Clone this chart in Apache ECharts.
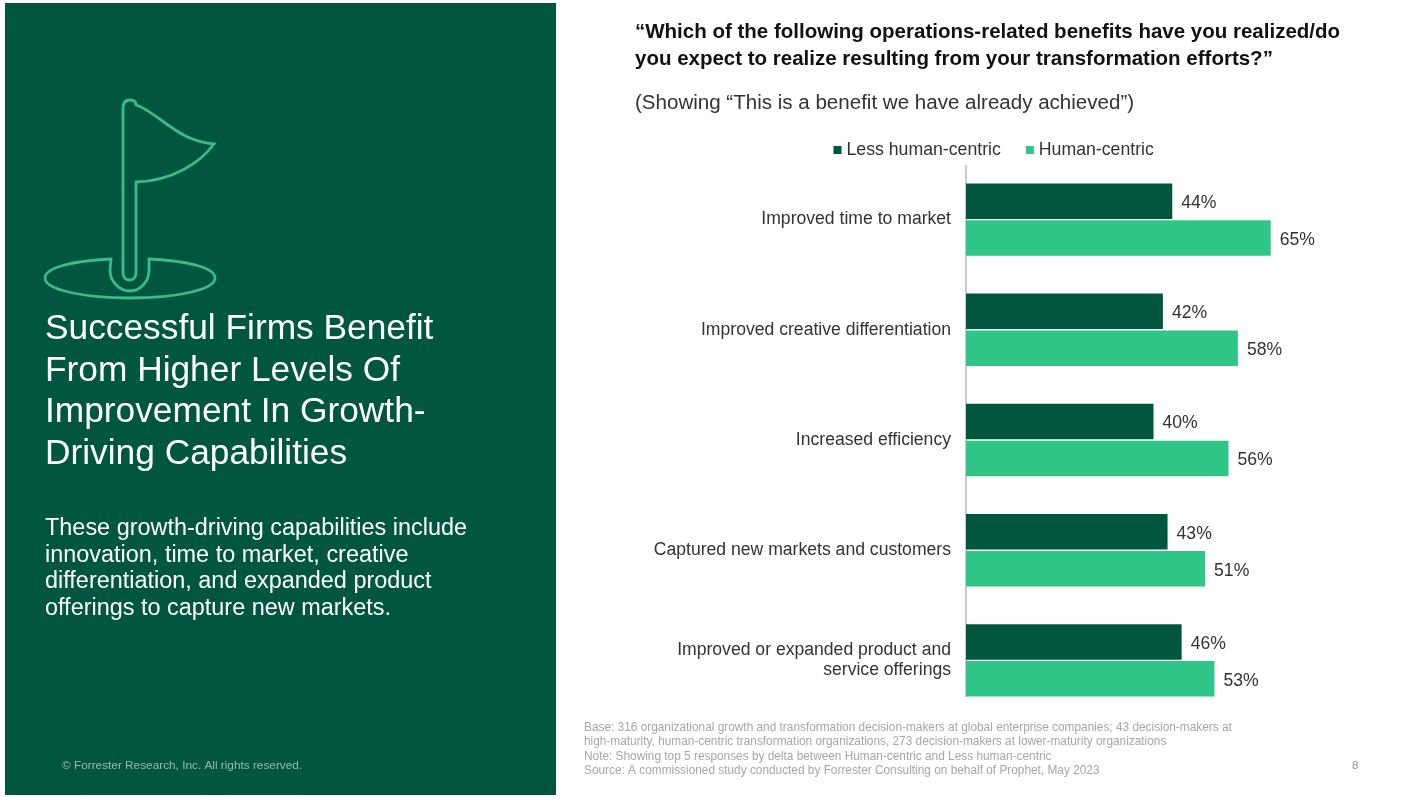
<!DOCTYPE html>
<html lang="en">
<head>
    <meta charset="UTF-8">
    <title>Successful Firms Benefit</title>
    <script src="https://cdn.jsdelivr.net/npm/echarts/dist/echarts.min.js"></script>
    <style>
        html, body { margin: 0; padding: 0; background: #fff; }
        #main { width: 1418px; height: 800px; }
    </style>
</head>
<body>
<div id="main"></div>
<script>
    var categories = [
        'Improved time to market',
        'Improved creative differentiation',
        'Increased efficiency',
        'Captured new markets and customers',
        'Improved or expanded product and\nservice offerings'
    ];
    var lessHumanCentric = [44, 42, 40, 43, 46];
    var humanCentric = [65, 58, 56, 51, 53];

    var fontFamily = '"Liberation Sans", Arial, sans-serif';
    var darkGreen = '#00563f';
    var lightGreen = '#2fc687';
    var iconGreen = '#3dbb87';

    // flag and hole outlines
    var flagPath = 'M123 108 C123 102 126 100 130 100 C134 100 136 102 136 105 C146 108 152 114 168 125 C182 135 194 142 214 144 ' +
        'C200 163 172 181 136 182 L136 272 C136 277 134 280 129.5 280 C125 280 123 277 123 272 Z';
    var holePath = 'M111 259 C70 261 45 268 45 278 C45 290 85 298 130 298 C175 298 215 290 215 278 C215 268 190 261 149 259 ' +
        'L149 270 C149 282 140 291 130 291 C120 291 110 282 110 270 Z';
    echarts.graphic.registerShape('flagOutline', echarts.graphic.extendPath(flagPath));
    echarts.graphic.registerShape('holeOutline', echarts.graphic.extendPath(holePath));

    function text(x, y, str, size, color, lineHeight, weight, align) {
        return {
            type: 'text', x: x, y: y,
            style: {
                text: str, fill: color, font: (weight || 'normal') + ' ' + size + 'px ' + fontFamily,
                lineHeight: lineHeight, textAlign: align || 'left', textVerticalAlign: 'top'
            }
        };
    }

    var valueLabel = { show: true, position: 'right', distance: 9, offset: [0, 2], formatter: '{c}%', fontSize: 17.6, color: '#333' };

    var chart = echarts.init(document.getElementById('main'), null, { renderer: 'canvas' });
    chart.setOption({
        animation: false,
        backgroundColor: '#fff',
        textStyle: { fontFamily: fontFamily },
        legend: {
            left: 828.5,
            top: 136,
            itemWidth: 8,
            itemHeight: 8,
            itemGap: 25,
            icon: 'rect',
            textStyle: { fontSize: 17.7, color: '#333' },
            data: ['Less human-centric', 'Human-centric']
        },
        grid: { left: 966, top: 164.5, width: 375, height: 551 },
        xAxis: { type: 'value', min: 0, max: 80, show: false },
        yAxis: {
            type: 'category',
            inverse: true,
            data: categories,
            axisLine: { show: false },
            axisTick: { show: false },
            axisLabel: { margin: 15, fontSize: 17.6, color: '#333', lineHeight: 20, align: 'right', padding: [4, 0, 0, 0] }
        },
        series: [
            {
                name: 'Less human-centric', type: 'bar', data: lessHumanCentric,
                barWidth: 35.5, barGap: '4%',
                itemStyle: { color: darkGreen },
                label: valueLabel
            },
            {
                name: 'Human-centric', type: 'bar', data: humanCentric,
                barWidth: 35.5,
                itemStyle: { color: lightGreen },
                label: valueLabel
            }
        ],
        graphic: [
            { type: 'rect', z: -1, shape: { x: 5, y: 3, width: 551, height: 792 }, style: { fill: darkGreen } },
            { type: 'flagOutline', style: { fill: 'none', stroke: iconGreen, lineWidth: 2.8 } },
            { type: 'holeOutline', style: { fill: 'none', stroke: iconGreen, lineWidth: 2.8 } },
            text(45, 308.5, 'Successful Firms Benefit\nFrom Higher Levels Of\nImprovement In Growth-\nDriving Capabilities', 35.3, '#fff', 41.7),
            text(45, 515, 'These growth-driving capabilities include\ninnovation, time to market, creative\ndifferentiation, and expanded product\nofferings to capture new markets.', 23.45, '#fff', 26.7),
            text(62, 759, '\u00a9 Forrester Research, Inc. All rights reserved.', 11.8, '#9fb8ae', 14),
            text(635, 19, '\u201cWhich of the following operations-related benefits have you realized/do\nyou expect to realize resulting from your transformation efforts?\u201d', 20.5, '#111', 27, 'bold'),
            text(635, 91, '(Showing \u201cThis is a benefit we have already achieved\u201d)', 20.55, '#333', 24),
            text(584, 720.5, 'Base: 316 organizational growth and transformation decision-makers at global enterprise companies; 43 decision-makers at\nhigh-maturity, human-centric transformation organizations, 273 decision-makers at lower-maturity organizations\nNote: Showing top 5 responses by delta between Human-centric and Less human-centric\nSource: A commissioned study conducted by Forrester Consulting on behalf of Prophet, May 2023', 11.85, '#a6a6a6', 14.4),
            text(1352, 759, '8', 11.5, '#999', 14),
            { type: 'line', shape: { x1: 966, y1: 165, x2: 966, y2: 697 }, style: { stroke: '#a6a6a6', lineWidth: 1.2 } }
        ]
    });
</script>
</body>
</html>
